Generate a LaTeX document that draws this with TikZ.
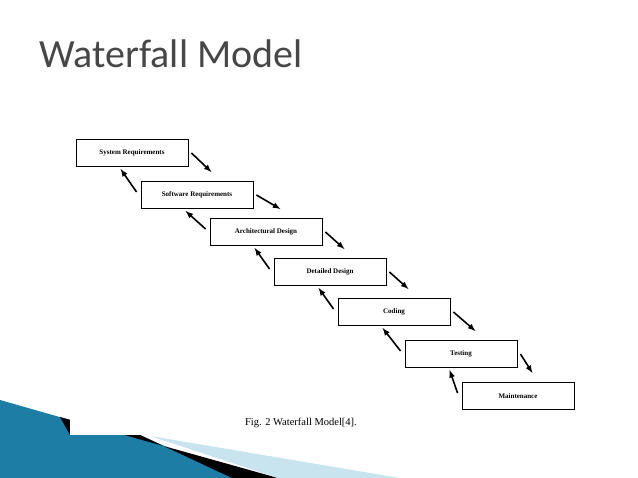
\documentclass[tikz,border=0pt]{standalone}
\usepackage{fontspec}
\usetikzlibrary{calc}
\setmainfont{Liberation Serif}
\newfontfamily\titlefont{Carlito}
\definecolor{swblue}{RGB}{30,125,165}
\definecolor{swlight}{RGB}{200,228,238}
\begin{document}
\begin{tikzpicture}[x=1pt,y=-1pt,
  stage/.style={draw,line width=0.9pt,minimum width=112pt,minimum height=27pt,inner sep=0pt,font=\bfseries\fontsize{7}{8}\selectfont},
  arr/.style={-latex,line width=1.6pt}]
\useasboundingbox (0,0) rectangle (638,478);
\fill[white] (0,0) rectangle (638,478);
% swoosh
\fill[swblue] (0,400) -- (70,420) -- (70,435) -- (140,435) -- (234,478) -- (0,478) -- cycle;
\fill[black] (60,417) -- (278,478) -- (232,478) -- (140,435) -- (70,435) -- cycle;
\fill[swlight] (150,436) -- (400,478) -- (278,478) -- cycle;
\fill[white] (70,395) rectangle (145,435);
\node[anchor=west,text=black!72,font=\titlefont\fontsize{40}{44}\selectfont] (title) at (36,54) {Waterfall Model};
\node[stage] (s1) at (132,153) {System Requirements};
\node[stage] (s2) at (197,195) {Software Requirements};
\node[stage] (s3) at (266,232) {Architectural Design};
\node[stage] (s4) at (330,272) {Detailed Design};
\node[stage] (s5) at (394,312) {Coding};
\node[stage] (s6) at (461,354) {Testing};
\node[stage] (s7) at (518,396) {Maintenance};
\foreach \a/\b in {s1/s2,s2/s3,s3/s4,s4/s5,s5/s6,s6/s7}{
  \draw[arr] ($(\a.east)+(3,0)$) -- ($(\b.north east)+(-42,-9)$);
  \draw[arr] ($(\b.west)+(-4,-3)$) -- ($(\a.south west)+(45,2)$);
}
\node[font=\fontsize{10.5}{12}\selectfont] (cap) at (301,423) {Fig. 2 Waterfall Model[4].};
\end{tikzpicture}
\end{document}
